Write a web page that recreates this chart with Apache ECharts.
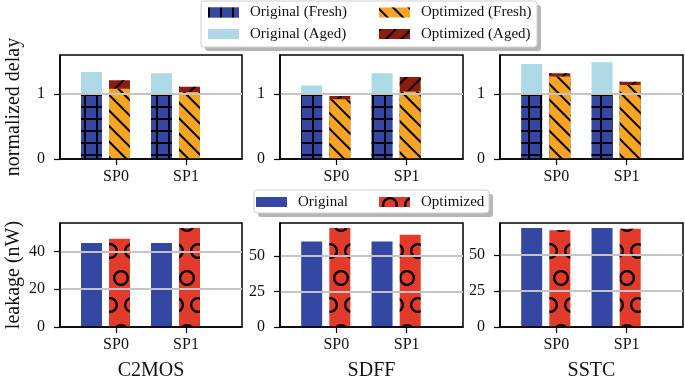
<!DOCTYPE html>
<html>
<head>
<meta charset="utf-8">
<script src="https://cdn.jsdelivr.net/npm/echarts@6/dist/echarts.min.js"></script>
<style>
html, body { margin: 0; padding: 0; background: #fff; }
#chart { width: 685px; height: 382px; }
</style>
</head>
<body>
<div id="chart"></div>
<script>
var categories = ['SP0', 'SP1'];
var cells = ['C2MOS', 'SDFF', 'SSTC'];

// normalized delay, one [SP0, SP1] pair per cell
var delayOrigFresh = [[1.00, 1.00], [1.00, 1.00], [1.00, 1.00]];
var delayOrigAged  = [[1.34, 1.32], [1.13, 1.32], [1.46, 1.49]];
var delayOptFresh  = [[1.08, 1.03], [0.92, 1.04], [1.27, 1.14]];
var delayOptAged   = [[1.21, 1.11], [0.97, 1.26], [1.32, 1.19]];

// leakage (nW)
var leakOrig = [[44.4, 44.4], [60.0, 60.0], [68.5, 68.5]];
var leakOpt  = [[46.7, 52.4], [69.5, 64.8], [66.9, 68.1]];

var delayTicks = [0, 1];
var leakTicks = [[0, 20, 40], [0, 25, 50], [0, 25, 50]];
var delayMax = 1.6;
var leakMax = [55, 73, 72];

var FONT = 'Liberation Serif';
var BLUE = '#3447a3', LIGHT = '#add8e6', ORANGE = '#f5a425', DARKRED = '#8c1c10', RED = '#e23b2b';

// hatch patterns
var gridDecal = { symbol: 'rect', color: '#000', dashArrayX: [[2, 10], [12, 0]], dashArrayY: [10, 0, 2, 0] };
function diagDecal(rot) {
  return { symbol: 'rect', color: '#000', dashArrayX: [20, 0], dashArrayY: [2, 9], rotation: rot };
}
function ring(cx, cy) {
  return 'M' + (cx - 8) + ' ' + cy + ' A8 8 0 1 1 ' + (cx + 8) + ' ' + cy + ' A8 8 0 1 1 ' + (cx - 8) + ' ' + cy + ' Z ' +
         'M' + (cx - 5.7) + ' ' + cy + ' A5.7 5.7 0 1 0 ' + (cx + 5.7) + ' ' + cy + ' A5.7 5.7 0 1 0 ' + (cx - 5.7) + ' ' + cy + ' Z ';
}
var circlePath = 'path://' + ring(11, 8) +
  'M0 27 A8 8 0 0 1 0 43 L0 40.7 A5.7 5.7 0 0 0 0 29.3 Z ' +
  'M22 27 A8 8 0 0 0 22 43 L22 40.7 A5.7 5.7 0 0 1 22 29.3 Z';
var circleDecal = { symbol: circlePath, color: '#000', dashArrayX: [22, 0], dashArrayY: [43, 11] };

var lefts = [60, 280, 500];
var widths = [182, 183, 183];
var grids = [], xAxes = [], yAxes = [], series = [];

function bars(name, idx, off, vals, color, decal, lines) {
  var s = {
    type: 'bar', name: name, xAxisIndex: idx, yAxisIndex: idx,
    barWidth: 21, barGap: '-100%',
    data: vals.map(function (v, i) { return [i + off, v]; }),
    itemStyle: { color: color, decal: decal || null }
  };
  if (lines) {
    s.markLine = {
      silent: true, symbol: 'none', label: { show: false },
      lineStyle: { color: '#c4c4c4', width: 1.8, type: 'solid' },
      data: lines.map(function (v) { return { yAxis: v }; })
    };
  }
  return s;
}

for (var row = 0; row < 2; row++) {
  for (var c = 0; c < 3; c++) {
    var idx = row * 3 + c;
    grids.push({
      left: lefts[c], width: widths[c], top: row === 0 ? 55 : 223, height: 104,
      show: true, borderColor: '#000', borderWidth: 1.5, backgroundColor: 'transparent'
    });
    var ticks = row === 0 ? delayTicks : leakTicks[c];
    xAxes.push({
      type: 'value', gridIndex: idx, min: -0.8, max: 1.8, z: 10,
      axisLine: { show: true, onZero: false, lineStyle: { color: '#000', width: 1.5 } },
      axisTick: { show: true, length: 6, customValues: [0, 1], lineStyle: { color: '#000', width: 1.2 } },
      axisLabel: {
        customValues: [0, 1], margin: 10, fontFamily: FONT, fontSize: 16, color: '#111',
        formatter: function (v) { return categories[Math.round(v)]; }
      },
      splitLine: { show: false },
      name: row === 1 ? cells[c] : '', nameLocation: 'middle', nameGap: 34,
      nameTextStyle: { fontFamily: FONT, fontSize: 20, color: '#111' }
    });
    yAxes.push({
      type: 'value', gridIndex: idx, min: 0, max: row === 0 ? delayMax : leakMax[c], z: 10,
      axisLine: { show: true, onZero: false, lineStyle: { color: '#000', width: 1.5 } },
      axisTick: { show: true, length: 6, customValues: ticks, lineStyle: { color: '#000', width: 1.2 } },
      axisLabel: { customValues: ticks, margin: 15, fontFamily: FONT, fontSize: 16, color: '#111' },
      splitLine: { show: false },
      name: c === 0 ? (row === 0 ? 'normalized delay' : 'leakage (nW)') : '',
      nameLocation: 'middle', nameGap: 36,
      nameTextStyle: { fontFamily: FONT, fontSize: 20, color: '#111' }
    });
    if (row === 0) {
      series.push(bars('Original (Aged)', idx, -0.35, delayOrigAged[c], LIGHT));
      series.push(bars('Original (Fresh)', idx, -0.35, delayOrigFresh[c], BLUE, gridDecal));
      series.push(bars('Optimized (Aged)', idx, 0.05, delayOptAged[c], DARKRED, diagDecal(-Math.PI / 4)));
      series.push(bars('Optimized (Fresh)', idx, 0.05, delayOptFresh[c], ORANGE, diagDecal(Math.PI / 4), [1]));
    } else {
      series.push(bars('Original', idx, -0.35, leakOrig[c], BLUE));
      series.push(bars('Optimized', idx, 0.05, leakOpt[c], RED, circleDecal, ticks.slice(1)));
    }
  }
}

function legend(names, left, top) {
  return {
    data: names, left: left, top: top, orient: 'vertical', padding: 0,
    itemWidth: 31, itemHeight: 10, itemGap: 5.5, icon: 'rect', selectedMode: false,
    textStyle: { fontFamily: FONT, fontSize: 15, color: '#111', lineHeight: 16, padding: [0, 0, 0, 6] }
  };
}

var chart = echarts.init(document.getElementById('chart'));
chart.setOption({
  animation: false,
  backgroundColor: '#fff',
  grid: grids,
  xAxis: xAxes,
  yAxis: yAxes,
  series: series,
  legend: [
    legend(['Original (Fresh)', 'Original (Aged)'], 208, 4.5),
    legend(['Optimized (Fresh)', 'Optimized (Aged)'], 379, 4.5),
    legend(['Original'], 256, 194),
    legend(['Optimized'], 379, 194)
  ],
  graphic: [
    { type: 'rect', silent: true, z: 0, shape: { x: 205, y: 5, width: 336, height: 46, r: 3 }, style: { fill: '#b5b5b5' } },
    { type: 'rect', silent: true, z: 1, shape: { x: 201, y: 1, width: 336, height: 46, r: 3 }, style: { fill: '#fff', stroke: '#cfcfcf', lineWidth: 1 } },
    { type: 'rect', silent: true, z: 0, shape: { x: 258, y: 194, width: 235, height: 23, r: 3 }, style: { fill: '#b5b5b5' } },
    { type: 'rect', silent: true, z: 1, shape: { x: 254, y: 190, width: 235, height: 23, r: 3 }, style: { fill: '#fff', stroke: '#cfcfcf', lineWidth: 1 } }
  ]
});
</script>
</body>
</html>
